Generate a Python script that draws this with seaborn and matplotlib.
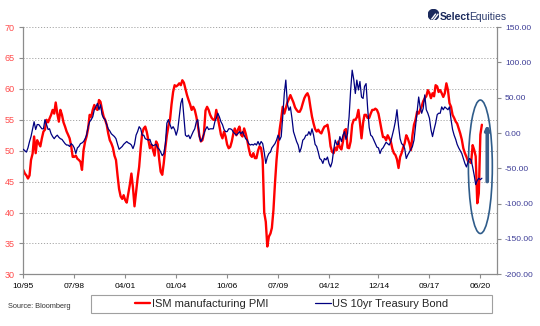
import numpy as np
import pandas as pd
import matplotlib
matplotlib.use("Agg")
import matplotlib.pyplot as plt
import matplotlib.dates as mdates
from matplotlib.patches import Ellipse, Rectangle, Circle
from matplotlib.lines import Line2D
import seaborn as sns

# ---------------- data (monthly, starting Oct 1995) ----------------
start_month = "1995-10-01"

ism_pmi = [
    46.9, 46.3, 46.0, 45.5, 46.0, 48.5, 49.5, 52.3, 49.6, 51.7,
    51.2, 50.7, 52.0, 53.1, 53.4, 55.0, 54.6, 55.2, 55.8, 56.6,
    56.0, 57.8, 56.0, 54.7, 56.6, 55.8, 54.6, 53.9, 53.1, 52.6,
    52.0, 50.8, 49.0, 49.0, 49.2, 48.7, 48.5, 48.2, 46.9, 50.1,
    51.5, 52.3, 53.6, 55.8, 55.5, 56.6, 57.4, 56.8, 56.6, 58.2,
    57.9, 56.6, 55.5, 55.0, 54.2, 52.8, 51.7, 51.2, 50.5, 49.2,
    48.5, 46.0, 43.8, 42.6, 42.2, 42.8, 42.0, 41.6, 43.1, 44.5,
    46.3, 44.0, 41.0, 43.3, 45.5, 47.4, 50.5, 52.8, 53.6, 53.9,
    53.0, 51.7, 50.4, 51.0, 50.1, 49.2, 51.5, 51.0, 48.5, 46.6,
    46.1, 48.0, 50.5, 52.5, 54.0, 55.0, 57.5, 59.5, 60.6, 60.4,
    60.6, 60.9, 60.6, 61.4, 61.0, 60.0, 59.0, 58.2, 57.5, 56.6,
    57.1, 56.6, 55.5, 54.2, 52.5, 51.5, 51.7, 52.8, 56.5, 57.1,
    56.6, 55.8, 55.3, 55.0, 55.0, 56.6, 55.3, 54.0, 52.6, 52.0,
    53.1, 52.3, 51.0, 50.4, 50.6, 51.5, 52.8, 53.6, 52.5, 53.4,
    53.9, 52.6, 52.3, 53.6, 52.8, 51.7, 50.4, 49.3, 49.0, 49.6,
    48.8, 48.8, 50.0, 50.7, 50.4, 48.5, 40.0, 38.5, 34.5, 36.1,
    36.6, 37.5, 40.4, 44.7, 48.5, 51.2, 53.4, 55.2, 57.1, 56.0,
    56.9, 57.8, 58.4, 59.0, 58.4, 57.8, 57.0, 56.6, 56.3, 56.3,
    56.8, 57.7, 58.5, 59.0, 59.3, 58.7, 57.0, 55.5, 54.4, 53.5,
    53.1, 53.4, 53.0, 52.8, 53.4, 53.9, 54.0, 54.2, 52.8, 50.7,
    49.8, 49.6, 50.5, 50.1, 51.5, 50.5, 50.2, 51.5, 53.3, 53.5,
    50.5, 50.4, 51.5, 54.2, 55.0, 55.0, 55.4, 56.6, 54.5, 52.0,
    54.5, 55.8, 55.8, 55.3, 55.3, 56.0, 56.6, 56.6, 56.8, 56.6,
    56.0, 54.7, 53.3, 52.2, 52.2, 51.7, 52.5, 52.0, 51.5, 50.3,
    49.6, 49.3, 48.6, 47.2, 49.0, 49.6, 50.5, 51.2, 52.5, 52.0,
    51.2, 50.1, 52.5, 54.2, 55.0, 56.3, 56.0, 56.6, 57.2, 58.0,
    58.5, 58.8, 59.8, 59.3, 58.5, 59.3, 58.8, 60.6, 60.4, 59.5,
    59.8, 59.3, 58.7, 59.3, 60.9, 59.8, 57.7, 57.1, 55.8, 55.3,
    54.7, 54.4, 53.6, 52.8, 51.8, 50.4, 49.6, 49.0, 48.3, 48.2,
    48.0, 50.9, 50.1, 49.1, 41.5, 43.1, 52.6, 54.2,
]

ust10_bp = [
    -23, -25, -27, -21, -12, -5, 6, 16, 5, 12,
    12, 9, 6, 6, 19, 12, 5, 6, -1, -5,
    -8, -5, -3, -6, -8, -9, -12, -15, -17, -17,
    -19, -15, -17, -21, -29, -21, -19, -15, -14, -12,
    -8, -3, 9, 16, 19, 23, 33, 37, 42, 33,
    40, 26, 21, 19, 12, 6, 3, -1, -3, -5,
    -8, -16, -23, -21, -19, -16, -14, -12, -14, -15,
    -17, -22, -16, -3, 2, 9, 6, -3, -3, -8,
    -9, -10, -9, -16, -18, -17, -16, -21, -23, -27,
    -32, -29, -16, 14, 19, 12, 6, 9, 5, -3,
    5, 23, 42, 49, 23, -3, -5, -3, -8, -3,
    2, 6, 16, 19, -5, -12, -8, -1, 5, 9,
    5, 6, 6, 6, 16, 21, 28, 23, 16, 12,
    5, 2, 2, 6, 6, 5, 1, -1, -3, -1,
    2, -1, 2, -3, -8, -10, -15, -17, -16, -17,
    -15, -17, -12, -17, -12, -15, -27, -43, -34, -29,
    -27, -21, -18, -15, -10, -3, -10, -5, 23, 56,
    75, 41, 32, 37, 21, 2, -5, -12, -17, -27,
    -21, -10, -8, -3, -3, 2, -3, 6, -3, -16,
    -19, -27, -36, -38, -43, -36, -38, -34, -43, -48,
    -41, -24, -10, -16, -16, -5, -12, -3, 2, -9,
    -1, 23, 61, 89, 76, 56, 75, 61, 73, 51,
    49, 66, 70, 36, 8, -3, -5, -10, -15, -20,
    -21, -29, -23, -21, -17, -13, -15, -17, -12, -3,
    6, 17, 33, 10, -8, -15, -17, -22, -36, -31,
    -27, -23, -19, -10, 9, 30, 51, 37, 28, 35,
    54, 33, 28, 21, 5, -5, 5, 14, 26, 28,
    28, 37, 33, 37, 35, 33, 37, 19, 5, -3,
    -9, -16, -21, -25, -29, -36, -43, -48, -41, -36,
    -38, -48, -60, -73, -67, -64, -66, -64,
]

series_names = ["ISM manufacturing PMI", "US 10yr Treasury Bond"]
x_tick_dates = ["1995-10-01", "1998-07-01", "2001-04-01", "2004-01-01", "2006-10-01",
                "2009-07-01", "2012-04-01", "2014-12-01", "2017-09-01", "2020-06-01"]
x_tick_labels = ["10/95", "07/98", "04/01", "01/04", "10/06",
                 "07/09", "04/12", "12/14", "09/17", "06/20"]
left_ticks = [30, 35, 40, 45, 50, 55, 60, 65, 70]
right_ticks = [-200, -150, -100, -50, 0, 50, 100, 150]
source_text = "Source: Bloomberg"

# ---------------- style ----------------
sns.set_theme(style="white")
plt.rcParams["font.family"] = ["Liberation Sans", "DejaVu Sans"]

RED = "#FF0000"
NAVY = "#000080"
GRID = "#A6A6A6"
SPINE = "#8C8C8C"

df_ism = pd.DataFrame({"date": pd.date_range(start_month, periods=len(ism_pmi), freq="MS"),
                       "value": ism_pmi})
df_ust = pd.DataFrame({"date": pd.date_range(start_month, periods=len(ust10_bp), freq="MS"),
                       "value": ust10_bp})

W, H = 540, 326
fig = plt.figure(figsize=(W / 100, H / 100), dpi=100)
x0, x1, ytop, ybot = 23.3, 496.7, 27.1, 274.3
ax = fig.add_axes([x0 / W, 1 - ybot / H, (x1 - x0) / W, (ybot - ytop) / H])
ax2 = ax.twinx()

sns.lineplot(data=df_ism, x="date", y="value", ax=ax, color=RED, lw=1.7, legend=False)
sns.lineplot(data=df_ust, x="date", y="value", ax=ax2, color=NAVY, lw=0.9, legend=False)

ax.set_ylim(left_ticks[0], left_ticks[-1])
ax2.set_ylim(right_ticks[0], right_ticks[-1])
ax.set_xlim(pd.Timestamp("1995-10-01"), pd.Timestamp("2021-04-19"))

ax.set_yticks(left_ticks)
ax.set_yticklabels([str(t) for t in left_ticks])
ax2.set_yticks(right_ticks)
ax2.set_yticklabels([f"{t:.2f}" for t in right_ticks])
ax.set_xticks(pd.to_datetime(x_tick_dates))
ax.set_xticklabels(x_tick_labels)

for a in (ax, ax2):
    a.set_xlabel("")
    a.set_ylabel("")
    a.spines["top"].set_visible(False)
    for s in ("left", "bottom", "right"):
        a.spines[s].set_color(SPINE)
        a.spines[s].set_linewidth(0.9)
ax.spines["right"].set_visible(False)
ax2.spines["left"].set_visible(False)
ax2.spines["bottom"].set_visible(False)

ax.yaxis.grid(True, color=GRID, ls=(0, (1.2, 1.8)), lw=0.7)
ax.xaxis.grid(False)
ax2.grid(False)

ax.tick_params(axis="y", left=True, length=3, width=0.8, color=SPINE,
               labelsize=6.5, labelcolor="#FF4B4B", pad=3)
ax.tick_params(axis="x", bottom=True, length=3, width=0.8, color=SPINE,
               labelsize=6, labelcolor="#000000", pad=3)
ax2.tick_params(axis="y", right=True, length=3, width=0.8, color=SPINE,
                labelsize=6, labelcolor="#3C3C96", pad=3)

# ---------------- highlight annotations ----------------
ANN = "#2F5C8A"
ell_x = mdates.date2num(pd.Timestamp("2020-06-01"))
arr_x = mdates.date2num(pd.Timestamp("2020-10-15"))
ell = Ellipse((ell_x, 47.4), width=472, height=21.6, fill=False, ec=ANN, lw=1.2)
ax2.add_patch(ell)
ell.set_transform(ax.transData)
ax2.annotate("", xy=(arr_x, 54.2), xytext=(arr_x, 45.0),
             xycoords=ax.transData, textcoords=ax.transData,
             arrowprops=dict(arrowstyle="-|>", color="#3A5F8B", lw=2.6,
                             mutation_scale=6, shrinkA=0, shrinkB=0))

# ---------------- legend ----------------
handles = [Line2D([], [], color=RED, lw=1.7), Line2D([], [], color=NAVY, lw=0.9)]
fig.legend(handles, series_names, loc="center", bbox_to_anchor=(291.5 / W, 1 - 304 / H),
           ncol=2, frameon=False, fontsize=8, handlelength=1.4, handletextpad=0.15,
           columnspacing=4.2, borderpad=0, borderaxespad=0)
fig.add_artist(Rectangle((90.7 / W, 1 - 313.3 / H), (491.7 - 90.7) / W, 18.3 / H,
                         transform=fig.transFigure, fill=False, ec="#A0A0A0", lw=0.8))

fig.text(8 / W, 1 - 306.7 / H, source_text, fontsize=5.3, va="center", ha="left", color="#333333")

# ---------------- logo ----------------
LOGO = "#1B2A5C"
lax = fig.add_axes([428 / W, 1 - 20.2 / H, 11 / W, 11 / H])
lax.set_xlim(-1.05, 1.05)
lax.set_ylim(-1.05, 1.05)
lax.set_aspect("equal")
lax.axis("off")
circ = Circle((0, 0), 1, color=LOGO)
lax.add_patch(circ)
for off in (0.0, 0.5):
    ln, = lax.plot([-0.55 + off, 0.45 + off], [-1.1, 0.2], color="white", lw=1.0,
                   solid_capstyle="butt")
    ln.set_clip_path(circ)
t1 = fig.text(440 / W, 1 - 20.3 / H, "Select", fontsize=7.5, fontweight="bold",
              color=LOGO, va="baseline", ha="left")
fig.canvas.draw()
bb = t1.get_window_extent(fig.canvas.get_renderer())
fig.text((bb.x1 - 1.8) / W, 1 - 20.3 / H, "Equities", fontsize=7.5,
         color="#2B3A6C", va="baseline", ha="left")

fig.savefig("out.png", dpi=100)
